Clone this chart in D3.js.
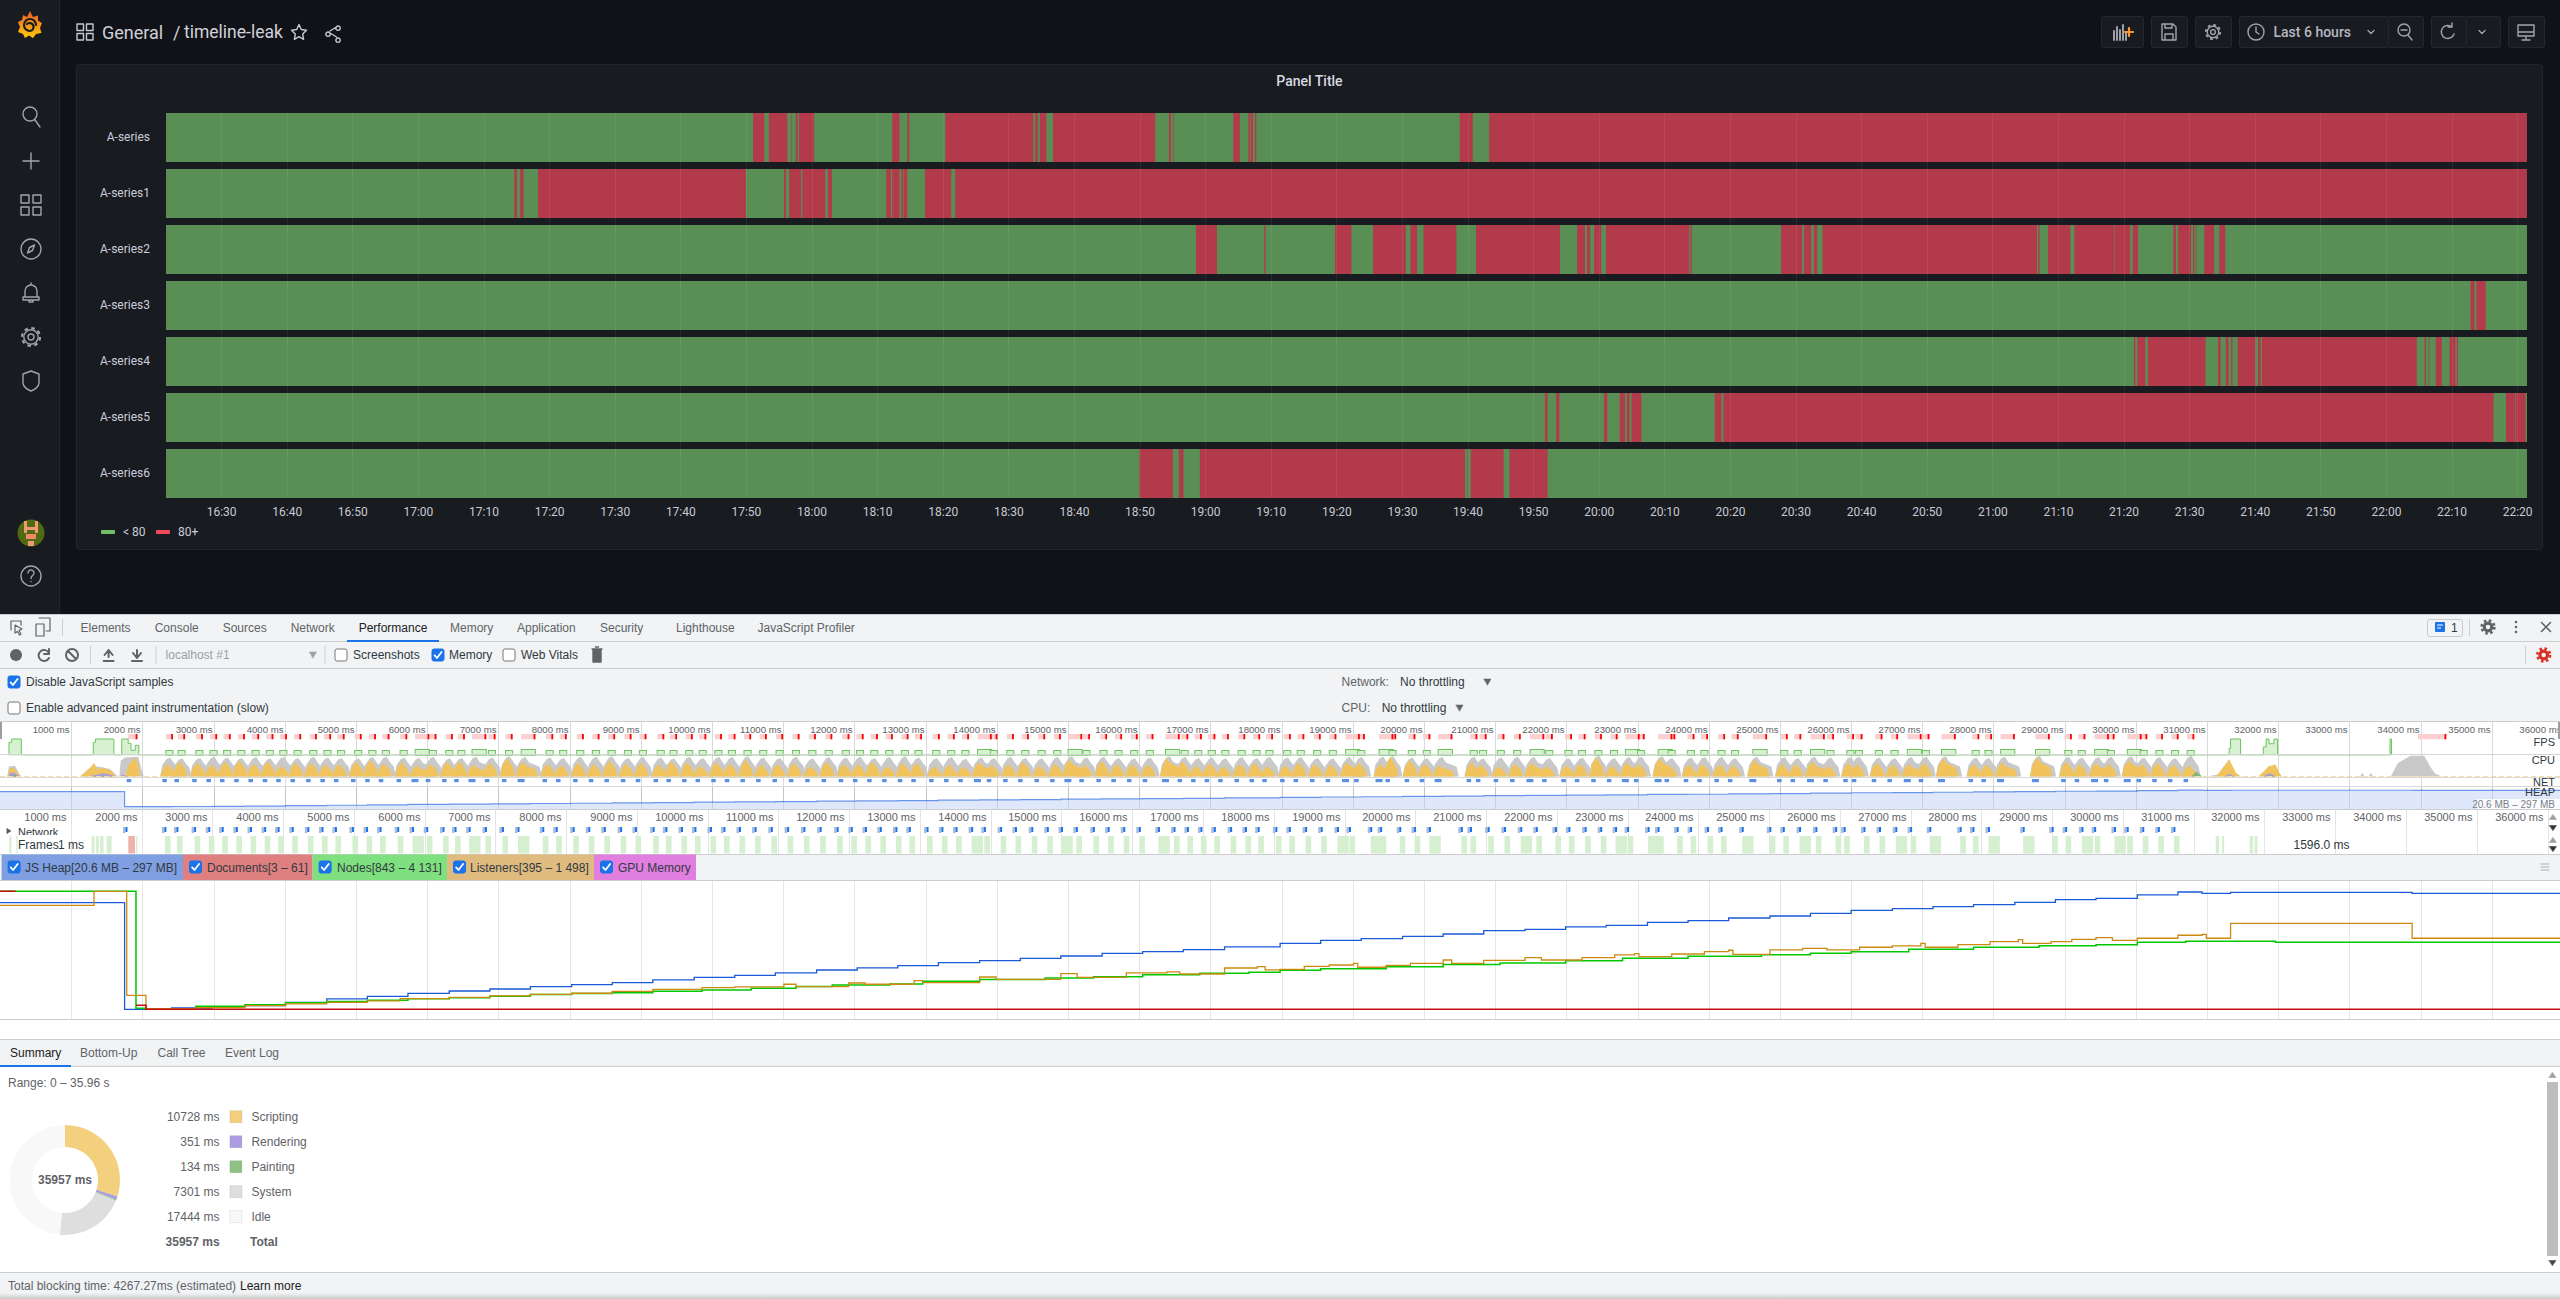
<!DOCTYPE html>
<html><head><meta charset="utf-8">
<script src="https://cdn.jsdelivr.net/npm/d3@7"></script>
<style>html,body{margin:0;padding:0;background:#111217;overflow:hidden}svg{display:block}</style>
</head><body><svg id="c" width="2560" height="1299" viewBox="0 0 2560 1299"></svg>
<script>
// ---------- State timeline (times are minutes after 16:00) ----------
const seriesNames=["A-series","A-series1","A-series2","A-series3","A-series4","A-series5","A-series6"];
const timeDomain=[21.6,381.5];
const tickLabels=["16:30","16:40","16:50","17:00","17:10","17:20","17:30","17:40","17:50","18:00","18:10","18:20","18:30","18:40","18:50","19:00","19:10","19:20","19:30","19:40","19:50","20:00","20:10","20:20","20:30","20:40","20:50","21:00","21:10","21:20","21:30","21:40","21:50","22:00","22:10","22:20"];
const redASeries=[[111.1,112.8],[113.5,116.3],[116.9,117.0],[117.6,117.9],[118.1,120.4],[132.3,133.4],[134.6,134.9],[140.4,153.8],[154.1,154.5],[154.8,155.8],[156.8,172.4],[174.5,174.8],[175.1,175.2],[184.3,185.3],[186.6,186.9],[187.0,187.3],[187.6,187.8],[218.8,220.8],[223.3,381.5]];
const redASeries1=[[74.7,75.1],[75.6,76.1],[78.3,110.0],[115.8,116.1],[116.6,118.4],[118.6,122.1],[122.5,123.1],[131.4,132.1],[132.3,133.4],[133.7,134.0],[134.1,134.6],[137.3,141.3],[141.9,381.5]];
const redASeries2=[[178.6,181.8],[189.0,189.2],[199.8,202.3],[205.6,210.6],[211.3,212.3],[213.3,218.3],[221.3,234.1],[236.7,237.9],[238.2,238.7],[239.3,240.4],[241.1,253.8],[254.0,254.2],[267.8,271.0],[271.3,272.4],[272.8,273.3],[274.1,306.8],[307.0,307.2],[308.5,311.9],[312.5,318.6],[318.7,321.0],[321.4,322.2],[327.6,328.0],[328.3,330.3],[330.6,330.8],[331.0,331.1],[332.3,333.8],[334.6,335.5]];
const redASeries3=[[372.9,373.5],[373.8,375.2]];
const redASeries4=[[321.6,321.8],[322.1,323.3],[323.7,332.5],[334.4,334.8],[335.6,336.0],[336.4,336.6],[337.4,340.1],[340.5,340.9],[341.1,364.7],[365.9,366.1],[366.5,366.6],[367.6,368.5],[369.7,370.6],[370.8,371.0]];
const redASeries5=[[231.8,232.2],[233.5,234.0],[240.8,241.3],[243.2,244.0],[244.3,244.7],[245.0,246.5],[257.7,258.7],[259.0,376.4],[378.3,379.7],[379.8,381.3]];
const redASeries6=[[170.0,175.1],[176.0,176.7],[179.2,219.6],[220.0,220.1],[220.5,225.5],[226.4,232.2]];
const redBySeries=[redASeries,redASeries1,redASeries2,redASeries3,redASeries4,redASeries5,redASeries6];
const legendLabels=["< 80","80+"];

// ---------- Performance overview (times in seconds) ----------
const rangeMs=[0,35957];
const secondTicks=[1000,2000,3000,4000,5000,6000,7000,8000,9000,10000,11000,12000,13000,14000,15000,16000,17000,18000,19000,20000,21000,22000,23000,24000,25000,26000,27000,28000,29000,30000,31000,32000,33000,34000,35000,36000];
const frameStarts=[2.33,2.50,2.75,2.95,3.14,3.34,3.54,3.74,3.93,4.13,
4.35,4.55,4.74,4.98,5.18,5.37,5.62,5.83,6.03,6.26,
6.43,6.63,6.86,7.10,7.32,7.67,7.86,8.10,8.32,8.54,
8.77,8.98,9.23,9.41,9.63,9.82,10.04,10.23,10.45,10.67,
10.90,11.13,11.36,11.59,11.83,12.03,12.23,12.44,12.66,12.85,
13.10,13.31,13.51,13.73,13.91,14.14,14.35,14.58,14.80,15.00,
15.21,15.45,15.66,15.88,16.10,16.37,16.59,16.78,16.97,17.16,
17.39,17.60,17.78,18.03,18.22,18.45,18.67,18.90,19.07,19.37,
19.51,19.78,19.99,20.20,20.65,20.78,21.03,21.26,21.49,21.71,
21.98,22.17,22.40,22.62,22.83,23.00,23.29,23.43,23.70,23.89,
24.13,24.32,24.62,25.01,25.20,25.43,25.66,25.94,26.06,26.34,
26.56,26.79,27.00,27.27,27.70,27.88,28.10,28.59,29.00,29.19,
29.42,29.60,29.88,30.06,30.28,30.50,30.72];
const longFrames=[5.83,6.63,7.32,13.73,15.00,16.37,18.90,19.37,20.20,21.49,22.83,23.29,24.62,25.43,26.79,27.27,28.10,28.59,29.42,29.88];
const cpuScript=[.62,.72,.68,.58,.72,.78,.62,.74,.52,.68,
.66,.58,.6,.72,.8,.64,.7,.55,.62,.72,
.74,.58,.66,.9,.72,.62,.55,.68,.6,.78,
.62,.66,.58,.74,.7,.52,.7,.62,.82,.58,
.6,.66,.5,.72,.62,.6,.72,.5,.66,.66,
.5,.58,.48,.7,.56,.6,.72,.52,.62,.82,
.58,.76,.62,.6,.58,.9,.72,.52,.64,.48,
.62,.66,.5,.55,.68,.62,.58,.7,.66,.6,
.95,.8,.62,.56,.7,.58,.5,.62,.68,.5,
.55,.62,.95,.52,.68,.6,.9,.5,.58,.6,
.58,.55,.82,.62,.6,.72,.52,.68,.6,.66,
.58,.62,.66,.9,.62,.58,.7,.95,.72,.6,
.66,.62,.8,.6,.68,.58,.55];
const cpuSystem=[.92,.88,.9,.96,.92,.9,.94,.88,.96,.9,
.95,.92,.9,.88,.94,.96,.92,.9,.95,.88,
.9,.96,.92,.98,.94,.92,.9,.95,.96,.98,
.9,.94,.92,.88,.96,.9,.95,.94,.98,.92,
.9,.96,.88,.94,.92,.96,.9,.94,.98,.92,
.9,.94,.86,.92,.9,.95,.9,.88,.94,.98,
.92,.96,.9,.88,.92,.98,.95,.9,.92,.88,
.94,.9,.96,.92,.94,.9,.88,.95,.94,.96,
.98,.92,.9,.94,.96,.88,.92,.96,.94,.9,
.88,.92,1,.9,.94,.96,.98,.9,.92,.94,
.95,.9,.96,.94,.9,.96,.92,.94,.96,.92,
.9,.94,.96,.98,.92,.9,.96,1,.96,.92,
.94,.96,.98,.92,.94,.9,1];
const fpsStepT=[.126,.164,.29,.30,1.31,1.34,1.59,1.60,1.71,1.80,1.84,1.90,1.94,1.95,31.31,31.33,31.46,31.47,31.79,31.83,31.87,31.94,31.98,31.99,33.57,33.59];
const fpsStepV=[.78,1,1,0,.78,1,1,0,1,.72,.28,.6,.6,0,.4,1,1,0,.5,1,.7,1,1,0,1,0];
const grayT=[.103,.126,.21,.28,.304,1.124,1.264,1.381,1.545,1.639,1.676,1.695,1.756,1.943,1.99,2.022,2.2,31.0,31.15,31.31,31.4,31.47,31.65,31.76,31.86,32.0,32.05,33.15,33.18,33.21,33.27,33.3,33.33,33.58,33.68,33.86,34.05,34.13,34.2,34.3];
const grayV=[0,.49,.52,.08,0,0,.44,.49,.37,.05,0,.76,.92,.95,.29,0,0,0,.1,.82,.2,.02,0,0,.5,.25,0,0,.2,0,0,.17,0,0,.65,1,1,.5,.15,0];
const scriptT=[.103,.14,.21,.27,.29,1.124,1.264,1.32,1.381,1.451,1.568,1.639,1.756,1.802,1.896,1.943,1.966,31.13,31.31,31.41,31.47,31.72,31.87,31.96,32.04];
const scriptV=[0,.44,.37,.08,0,0,.41,.65,.33,.44,.24,0,0,.52,.92,.6,0,0,.82,.15,0,0,.5,.58,0];
const renderT=[.117,.15,.21,.257,.28,1.217,1.334,1.451,1.568,1.639,1.68,1.72,1.8,31.24,31.31,31.39,31.77,31.88,31.98];
const renderV=[0,.21,.17,.05,0,0,.08,.16,.08,0,0,.1,0,0,.13,0,0,.16,0];
const paintT=[.117,.164,.21,.257,1.264,1.451,1.592,30.78,30.85,30.93,31.82,31.88,31.96];
const paintV=[0,.08,.08,0,0,.05,0,0,.25,0,0,.08,0];
const preFrameT=[.13,.23,1.295,1.356,1.413,1.507,1.813,1.92,31.31,31.40,31.79,31.86];
const preFrameW=[.03,.02,.04,.04,.05,.07,.094,.02,.05,.03,.05,.04];
// ---------- Counters: time (s) and value ----------
const heapT=[0,1.75,2.41,2.98,3.44,4.01,4.59,5.16,5.73,6.31,6.88,7.45,8.03,8.60,9.17,9.75,10.32,10.89,11.47,12.04,12.61,13.18,13.76,14.33,14.90,15.48,16.05,16.62,17.20,17.98,18.55,19.12,19.70,20.27,20.84,21.42,21.99,22.56,23.14,23.71,24.28,24.86,25.43,26.00,26.58,27.15,27.72,28.30,28.87,29.44,30.02,30.59,30.93,31.33,33.88,35.96];
const heapMB=[270.4,20.6,23.7,26.1,29.2,37,44.8,51,58,63.5,68.2,73.7,78.4,83,89.3,95.6,100.2,105.7,112.7,117.4,122.9,129.9,134.6,140,145.5,151.8,155.7,160.4,166.6,175.2,182.2,186.1,191.6,197,204.9,208,213.5,217.4,224.4,228.3,234.5,239.2,245.5,252.5,256.4,261.1,265.8,271.2,277.5,280.6,288.4,295.4,292.3,294.7,292.3,292.3];
const docsT=[0,.22,.23,1.91,2.05,35.96];
const docsN=[61,61,null,5,3,3];
const nodesT=[0,1.91,2.04,2.75,3.44,4.01,4.59,5.16,5.73,6.31,6.88,7.45,8.03,8.60,9.17,9.86,10.55,11.18,11.69,12.50,12.96,13.76,14.68,15.36,16.05,16.85,17.54,17.98,18.55,19.47,20.27,21.07,21.99,22.79,23.71,24.74,25.43,26.00,26.81,27.72,28.64,29.44,30.02,30.70,31.96,33.88,35.96];
const nodesN=[4131,871,852,927,973,1029,1057,1094,1140,1168,1205,1252,1280,1307,1345,1382,1428,1475,1521,1549,1623,1670,1716,1753,1809,1846,1874,1930,1976,2032,2088,2134,2199,2264,2320,2366,2403,2450,2515,2571,2617,2645,2710,2738,2710,2710,2710];
const listenT=[0,1.32,1.78,2.05,2.75,3.44,4.01,4.59,5.16,5.62,6.31,6.88,7.45,8.03,8.60,9.17,9.86,10.32,11.01,11.18,11.92,12.15,12.84,12.96,13.76,13.99,14.90,15.13,15.82,16.39,16.57,17.20,17.66,17.77,17.98,18.32,18.67,19.01,19.07,19.47,19.81,20.27,20.39,20.84,21.42,21.65,22.22,22.68,22.96,23.02,23.48,23.94,24.28,24.34,24.86,25.32,25.66,26.12,26.58,26.98,27.04,27.50,27.95,28.35,28.41,28.81,29.10,29.44,29.67,30.02,30.59,30.93,30.99,31.33,33.88,35.96];
const listenN=[1367,1498,526,401,411,429,445,460,473,495,507,520,535,545,563,582,598,604,629,607,641,629,663,644,697,675,728,694,735,744,725,781,794,763,769,797,809,825,788,806,825,856,825,853,878,856,878,903,915,887,912,934,947,909,950,965,950,975,987,1012,975,1000,1028,1046,1012,1028,1049,1065,1040,1059,1087,1096,1059,1199,1059,1059];
// ---------- Summary ----------
const summaryLabels=["Scripting","Rendering","Painting","System","Idle"];
const summaryValues=[10728,351,134,7301,17444];
const summaryTotal=35957;
const summaryColors=["#f3d07e","#ae9ce3","#8fc184","#dedede","#f8f8f8"];
const counterLabels=["JS Heap[20.6 MB – 297 MB]","Documents[3 – 61]","Nodes[843 – 4 131]","Listeners[395 – 1 498]","GPU Memory"];
const counterColors=["#7f9fe2","#e07f7f","#7fe07f","#e0bb7f","#e07fe0"];
const tabs=["Elements","Console","Sources","Network","Performance","Memory","Application","Security","Lighthouse","JavaScript Profiler"];

// ---------- helpers ----------
const svg=d3.select("#c");
const GF="Roboto, sans-serif", DF="'Liberation Sans', Arial, sans-serif";
function R(x,y,w,h,fill,o={},p=svg){const r=p.append("rect").attr("x",x).attr("y",y).attr("width",w).attr("height",h).attr("fill",fill);for(const k in o)r.attr(k,o[k]);return r;}
function T(x,y,s,o={},p=svg){const t=p.append("text").attr("x",x).attr("y",y).attr("dominant-baseline","central").attr("font-family",o.ff||DF).attr("font-size",o.fs||12).attr("fill",o.c||"#5f6368").attr("text-anchor",o.a||"start").text(s);if(o.w)t.attr("font-weight",o.w);if(o.deco)t.attr("text-decoration",o.deco);return t;}
function L(x1,y1,x2,y2,c,w=1,p=svg){return p.append("line").attr("x1",x1).attr("y1",y1).attr("x2",x2).attr("y2",y2).attr("stroke",c).attr("stroke-width",w);}
function P(x,y,d,o={},p=svg){return p.append("path").attr("transform",`translate(${x},${y})`).attr("d",d).attr("fill",o.f||"none").attr("stroke",o.s===undefined?"#a2a4ad":o.s).attr("stroke-width",o.w||1.4).attr("stroke-linecap","round").attr("stroke-linejoin","round");}
function Cb(x,y,checked){const g=svg.append("g");R(x,y,12,12,checked?"#1a73e8":"#fff",{rx:2,stroke:checked?"#1a73e8":"#767676"},g);if(checked)P(x,y,"M2.6 6.4L5 9L9.6 3",{s:"#fff",w:1.8},g);}
function Gear(x,y,r,c){const g=svg.append("g");
  g.append("circle").attr("cx",x).attr("cy",y).attr("r",r*.72).attr("fill","none").attr("stroke",c).attr("stroke-width",1.4);
  g.append("circle").attr("cx",x).attr("cy",y).attr("r",r*.3).attr("fill","none").attr("stroke",c).attr("stroke-width",1.4);
  const dash=2*Math.PI*r*.9/16;
  g.append("circle").attr("cx",x).attr("cy",y).attr("r",r*.9).attr("fill","none").attr("stroke",c).attr("stroke-width",r*.22).attr("stroke-dasharray",`${dash} ${dash}`);}
function SolidGear(x,y,r,c,bg){const g=svg.append("g");
  const dash=2*Math.PI*r*.85/16;
  g.append("circle").attr("cx",x).attr("cy",y).attr("r",r*.85).attr("fill","none").attr("stroke",c).attr("stroke-width",r*.35).attr("stroke-dasharray",`${dash} ${dash}`);
  g.append("circle").attr("cx",x).attr("cy",y).attr("r",r*.72).attr("fill",c);
  g.append("circle").attr("cx",x).attr("cy",y).attr("r",r*.3).attr("fill",bg);}

// ---------- dark area ----------
R(0,0,2560,614,"#111217");
R(0,0,59.5,614,"#181b1f");L(59.5,0,59.5,614,"#22252b");
// logo
const defs=svg.append("defs");
const lg=defs.append("linearGradient").attr("id","lg").attr("x1",0).attr("y1",1).attr("x2",0).attr("y2",0);
lg.append("stop").attr("offset",0).attr("stop-color","#fbca0a");lg.append("stop").attr("offset",1).attr("stop-color","#f05a28");
svg.append("path").attr("transform","translate(30,25)").attr("fill","url(#lg)")
 .attr("d","M0 -14L3 -8L8 -9.5L8 -4.5L12 -2L10 3L11.5 8L6 9L3 13L-1 10.5L-5 13L-7 9L-12 7L-10 2L-12 -3L-8 -5L-7 -10L-3 -8Z");
P(30,25,"M6 0A6 6 0 1 0 0 6A4 4 0 1 0 -3 -1",{s:"#181b1f",w:2.2});
// side icons
const cx=31;
P(cx,117,"M-8 -3a7 7 0 1 0 14 0a7 7 0 1 0 -14 0M4 3L9 10");
P(cx,161,"M0 -8V8M-8 0H8");
P(cx,205,"M-10 -10h8v8h-8zM2 -10h8v8h-8zM-10 2h8v8h-8zM2 2h8v8h-8z");
P(cx,249,"M-10 0a10 10 0 1 0 20 0a10 10 0 1 0 -20 0M3.5 -4L1.5 1.5L-3.5 4L-1.5 -1.5Z");
P(cx,293,"M0 -10V-8M-6 4V-2a6 6 0 0 1 12 0V4M-8 4H8V7H-8ZM-2 7V9H2V7");
Gear(cx,337,10,"#a2a4ad");
P(cx,381,"M-8 -7L0 -10L8 -7V2C8 6 3 9 0 10C-3 9 -8 6 -8 2Z");
svg.append("circle").attr("cx",cx).attr("cy",533).attr("r",13.5).attr("fill","#4f6a10");
R(cx-7,521,3,12,"#f09a73");R(cx+4,521,3,12,"#f09a73");R(cx-4,527,8,3,"#f09a73");R(cx-5,534,10,5,"#ee8a66");R(cx-3,541,6,5,"#f09a73");
P(cx,576,"M-10 0a10 10 0 1 0 20 0a10 10 0 1 0 -20 0M-3 -3a3 3 0 1 1 4.5 2.6C.5 .2 0 1 0 2.5M0 5.5v.1");
// title bar
P(85,32,"M-8 -8h6.5v6.5h-6.5zM1.5 -8h6.5v6.5h-6.5zM-8 1.5h6.5v6.5h-6.5zM1.5 1.5h6.5v6.5h-6.5z",{s:"#c7c8d1"});
T(102,32,"General",{ff:GF,fs:18,c:"#d0d1da"});
T(173,32,"/",{ff:GF,fs:18,c:"#d0d1da"});
T(184,32,"timeline-leak",{ff:GF,fs:17.5,c:"#d0d1da"});
P(299,32,"M0 -7.5L2.3 -2.5L7.5 -1.8L3.7 1.9L4.6 7.3L0 4.7L-4.6 7.3L-3.7 1.9L-7.5 -1.8L-2.3 -2.5Z",{s:"#c7c8d1"});
P(333,32,"M-5 0a2.2 2.2 0 1 0 .1 0M5 -6a2.2 2.2 0 1 0 .1 0M5 6a2.2 2.2 0 1 0 .1 0M-3 -1L3.5 -5M-3 1L3.5 5",{s:"#c7c8d1"});
// toolbar
const btnX=[2101,2151,2195,2239,2388,2431,2466,2508],btnW=[42,36,36,149,35,35,34,36];
btnX.forEach((x,i)=>R(x+.5,16.5,btnW[i],31,"#181b1f",{rx:2,stroke:"#24272d"}));
P(2122,32,"M-8 8V-1M-5 8V-5M-2 8V-2M1 8V-7M4 8V1",{s:"#9ea0a9",w:2});
P(2129,32,"M-4 0H4M0 -4V4",{s:"#ff9830",w:2.2});
P(2169,32,"M-7 -8H4L7 -5V8H-7ZM-4 -8V-4H3V-8M-4 8V2H4V8");
Gear(2213,32,8,"#a2a4ad");
P(2256,32,"M-8 0a8 8 0 1 0 16 0a8 8 0 1 0 -16 0M0 -5V0L3 2");
T(2273.5,32,"Last 6 hours",{ff:GF,fs:14,c:"#b6b7c2",w:500});
P(2371,32,"M-3 -1.5L0 1.5L3 -1.5");
P(2405,32,"M-7 -2a6 6 0 1 0 12 0a6 6 0 1 0 -12 0M3 3L7 8M-4 -2H2");
P(2448,32,"M6 2A6.5 6.5 0 1 1 4 -5M4 -9V-5H0");
P(2482,32,"M-3 -1.5L0 1.5L3 -1.5");
P(2526,32,"M-8 -7H8V4H-8ZM-4 8H4M0 4V8M-8 0H8");
// panel
R(76.5,64.5,2466,485,"#181b1f",{rx:3,stroke:"#22252a"});
T(1309.5,81,"Panel Title",{ff:GF,fs:14,c:"#d8d9e2",a:"middle",w:500});

// state timeline
const parseTick=s=>{const [h,m]=s.split(":").map(Number);return (h-16)*60+m;};
const xT=d3.scaleLinear().domain(timeDomain).range([166,2527]);
const rows=svg.append("g");
const stepH=49;
seriesNames.forEach((n,i)=>{
  const y=113+i*56;
  rows.append("rect").attr("x",xT(timeDomain[0])).attr("y",y).attr("width",xT(timeDomain[1])-xT(timeDomain[0])).attr("height",stepH).attr("fill","#598e54");
  rows.selectAll(null).data(redBySeries[i]).join("rect").attr("x",d=>xT(d[0])).attr("width",d=>xT(d[1])-xT(d[0])).attr("y",y).attr("height",stepH).attr("fill","#b23a4b");
  T(150,y+23.8,n,{ff:GF,fs:12,c:"#ccccdc",a:"end"});
});
const axG=svg.append("g").attr("transform","translate(0,498)").call(d3.axisBottom(xT).tickValues(tickLabels.map(parseTick)).tickSize(0).tickPadding(0).tickFormat((d,i)=>tickLabels[i]));
axG.select(".domain").remove();
axG.selectAll("text").attr("font-family",GF).attr("font-size",12).attr("fill","#c8c9d3").attr("y",13.5).attr("dy",0).attr("dominant-baseline","central");
tickLabels.map(parseTick).forEach(m=>L(Math.round(xT(m))+.5,113,Math.round(xT(m))+.5,498,"rgba(255,255,255,0.07)"));
// legend
R(101,530,14,4,"#73bf69",{rx:1});T(123,532,legendLabels[0],{ff:GF,fs:12,c:"#ccccdc"});
R(156,530,14,4,"#f2495c",{rx:1});T(178,532,legendLabels[1],{ff:GF,fs:12,c:"#ccccdc"});

// ---------- DevTools ----------
R(0,614,2560,685,"#f1f3f4");
L(0,614.5,2560,614.5,"#ccd0d6");
L(0,641.5,2560,641.5,"#cbcdd1");L(0,668.5,2560,668.5,"#cbcdd1");L(0,721.5,2560,721.5,"#cbcdd1");
const tabX=[80.6,154.7,222.7,290.7,358.7,450,517,600,676,757.5];
tabs.forEach((t,i)=>T(tabX[i],627.7,t,{c:t==="Performance"?"#202124":"#5f6368"}));
R(347,640,92,2,"#1a73e8");
P(16,627,"M-5 3V-6H5V-2M-1 -2L6 2L3 3.5L5 7L3.5 8L1.5 4.5L-1 6Z",{s:"#5f6368",w:1.2});
P(43,627,"M-4 -9H7V4H3M-7 -3H1V9H-7Z",{s:"#5f6368",w:1.2});
L(62.5,619,62.5,636,"#ccd0d6");
// second toolbar
svg.append("circle").attr("cx",16).attr("cy",655).attr("r",6).attr("fill","#5f6368");
P(44,655,"M5 -2A5.5 5.5 0 1 0 5 3M5 -6V-1H0",{s:"#5f6368",w:2});
P(72,655,"M-6 0a6 6 0 1 0 12 0a6 6 0 1 0 -12 0M-4 -4L4 4",{s:"#5f6368",w:2});
L(90.5,646,90.5,664,"#ccd0d6");
P(108.6,654,"M-4 1L0 -4L4 1M0 -4V3M-5 7H5",{s:"#5f6368",w:2});
P(137,654,"M-4 -1L0 4L4 -1M0 4V-4M-5 7H5",{s:"#5f6368",w:2});
L(156,646,156,664,"#ccd0d6");
T(165.6,655,"localhost #1",{c:"#9aa0a6"});
P(313,655,"M-3.5 -3H3.5L0 3Z",{f:"#9aa0a6",s:"#9aa0a6",w:.5});
L(325,646,325,664,"#ccd0d6");
Cb(335,649,false);T(353,655,"Screenshots",{c:"#303942"});
Cb(432,649,true);T(449,655,"Memory",{c:"#303942"});
Cb(503,649,false);T(521,655,"Web Vitals",{c:"#303942"});
P(597,655,"M-4 -5H4V7H-4ZM-5 -6H5M-1.5 -8H1.5",{f:"#5f6368",s:"#5f6368",w:1.4});
// badge & right icons
R(2427.5,619.5,35,17,"#f1f3f4",{rx:2,stroke:"#c6c9cd"});
R(2435,622,10,10,"#1a73e8",{rx:1});L(2437,625,2443,625,"#fff");L(2437,628,2441,628,"#fff");
T(2451,628,"1",{c:"#303942"});
L(2469.5,619,2469.5,636,"#ccd0d6");
SolidGear(2488,627,7.5,"#5f6368","#f1f3f4");
[-5,0,5].forEach(d=>svg.append("circle").attr("cx",2516).attr("cy",627+d).attr("r",1.3).attr("fill","#5f6368"));
P(2546,627,"M-4.5 -4.5L4.5 4.5M4.5 -4.5L-4.5 4.5",{s:"#5f6368",w:1.6});
L(2525.5,646,2525.5,664,"#ccd0d6");
SolidGear(2543.7,655,7.5,"#d93025","#f1f3f4");
// third toolbar
Cb(8,676,true);T(26,682,"Disable JavaScript samples",{c:"#303942"});
Cb(8,702,false);T(26,708,"Enable advanced paint instrumentation (slow)",{c:"#303942"});
T(1341.6,682,"Network:",{c:"#5f6368"});T(1400,682,"No throttling",{c:"#303942"});
P(1487.5,682,"M-3.5 -3H3.5L0 3Z",{f:"#5f6368",s:"#5f6368",w:.5});
T(1341.6,708,"CPU:",{c:"#5f6368"});T(1381.7,708,"No throttling",{c:"#303942"});
P(1459.6,708,"M-3.5 -3H3.5L0 3Z",{f:"#5f6368",s:"#5f6368",w:.5});

// ---------- Overview ----------
R(0,722,2560,132,"#fff");
const xO=d3.scaleLinear().domain([0,35957]).range([0,2560]);
const ts=t=>xO(t*1000);
const longSet=new Set(longFrames);
const fw=s=>longSet.has(s)?0.2:0.1;
const ov=svg.append("g");
secondTicks.forEach(v=>{const x=Math.round(xO(v))+.5;L(x,722,x,809.5,"#dadada",1,ov);T(x-2,729,`${v} ms`,{fs:9.6,c:"#5f6368",a:"end"},ov);});
// FPS
ov.selectAll(null).data(frameStarts).join("rect").attr("x",d=>ts(d)).attr("width",d=>ts(fw(d)))
 .attr("y",d=>longSet.has(d)?749.5:750.5).attr("height",d=>longSet.has(d)?5.5:4.5).attr("fill","#d7f1d1").attr("stroke","#6cc460").attr("stroke-width",1);
// pink/red
ov.selectAll(null).data(frameStarts).join("rect").attr("x",d=>ts(d)).attr("width",d=>ts(fw(d))).attr("y",734).attr("height",5.3).attr("fill","#fcd0d0");
ov.selectAll(null).data(frameStarts).join("rect").attr("x",d=>ts(d+fw(d))-1.8).attr("width",1.8).attr("y",734).attr("height",5.3).attr("fill","#f00");
R(ts(1.8),734,ts(.13),5.3,"#fcd0d0",{},ov);R(ts(1.93)-1.8,734,1.8,5.3,"#f00",{},ov);
R(ts(33.96),734,ts(.4),5.3,"#fcd0d0",{},ov);R(ts(34.36)-1.8,734,1.8,5.3,"#f00",{},ov);
const yFps=d3.scaleLinear().domain([0,1]).range([754.7,739]);
const zip=(a,b)=>a.map((t,i)=>[t,b[i]]);
ov.append("path").attr("d",d3.area().x(d=>ts(d[0])).y0(754.7).y1(d=>yFps(d[1])).curve(d3.curveStepAfter)(zip(fpsStepT,fpsStepV))).attr("fill","#d7f1d1").attr("stroke","#6cc460");
L(0,754.5,2560,754.5,"#d4d4d4",1,ov);
// CPU
const yCpu=d3.scaleLinear().domain([0,1]).range([776.6,755.8]);
const aCpu=d3.area().x(d=>ts(d[0])).y0(776.6).y1(d=>yCpu(d[1]));
const grayHump=(s,g,w)=>[[s-.08,0],[s-.05,.6*g],[s+.01,.92*g],[s+.06,g],[s+.11,.72*g],[s+w+.06,.5*g],[s+w+.09,0]];
const scriptHump=(s,o,w)=>[[s-.08,0],[s-.04,.6*o],[s+.02,o],[s+.06,.75*o],[s+w+.01,.45*o],[s+w+.03,0]];
ov.append("g").selectAll("path").data(frameStarts).join("path").attr("d",(s,i)=>aCpu(grayHump(s,cpuSystem[i],fw(s)))).attr("fill","#c9c9c9");
ov.append("g").selectAll("path").data(frameStarts).join("path").attr("d",(s,i)=>aCpu(scriptHump(s,cpuScript[i],fw(s)))).attr("fill","#f0c35c");
[[grayT,grayV,"#c9c9c9"],[scriptT,scriptV,"#f0c35c"],[renderT,renderV,"#ae9ce3"],[paintT,paintV,"#7fb779"]].forEach(([a,b,c])=>{
  ov.append("path").attr("d",aCpu(zip(a,b))).attr("fill",c);
});
L(0,776.5,170,776.5,"#f3dfa9",1,ov).attr("stroke-dasharray","5 3");
L(2195,776.5,2560,776.5,"#f3dfa9",1,ov).attr("stroke-dasharray","5 3");
L(0,777.5,2560,777.5,"#d8d8d8",1,ov);
// NET
ov.selectAll(null).data(frameStarts).join("rect").attr("x",d=>ts(d-.05)).attr("width",d=>longSet.has(d)?7:4.5).attr("y",779).attr("height",3.2).attr("fill","#5b8fe0");
R(ts(1.78),779,4.5,3.2,"#5b8fe0",{},ov);
L(0,786.5,2560,786.5,"#d8d8d8",1,ov);
// HEAP overview
const heapPts=zip(heapT,heapMB);
const yH=d3.scaleLinear().domain([20.6,297]).range([806.7,790.1]);
ov.append("path").attr("d",d3.area().x(d=>ts(d[0])).y0(809).y1(d=>yH(d[1])).curve(d3.curveStepAfter)(heapPts)).attr("fill","#dfe7fb");
ov.append("path").attr("d",d3.line().x(d=>ts(d[0])).y(d=>yH(d[1])).curve(d3.curveStepAfter)(heapPts)).attr("fill","none").attr("stroke","#6a96ea").attr("stroke-width",1.2);
secondTicks.forEach(v=>{const x=Math.round(xO(v))+.5;L(x,787,x,809.5,"rgba(0,0,0,.1)",1,ov);});
L(0,809.5,2560,809.5,"#cbcdd1",1,ov);
[["FPS",742],["CPU",760],["NET",782],["HEAP",792]].forEach(([s,y])=>T(2555,y,s,{fs:11,c:"#303942",a:"end"},ov));
R(2477,799,83,10,"rgba(255,255,255,.85)",{},ov);
T(2555,804,"20.6 MB – 297 MB",{fs:10,c:"#7b7f85",a:"end"},ov);
R(0,722,2,17,"#9e9e9e",{},ov);R(2558,722,2,17,"#9e9e9e",{},ov);

// ---------- Main timeline ----------
const xM=d3.scaleLinear().domain([0,35957]).range([0,2544.5]);
const mt=svg.append("g");
R(0,810,2546,44,"#fff",{},mt);
secondTicks.forEach(v=>{const x=Math.round(xM(v))+.5;L(x,810,x,854,"#e4e4e4",1,mt);T(x-5,817,`${v} ms`,{fs:11,c:"#5f6368",a:"end"},mt);});
mt.selectAll(null).data(frameStarts).join("rect").attr("x",d=>xM(d*1000)).attr("width",d=>xM(fw(d)*800)).attr("y",836).attr("height",17.5).attr("fill","#d6efd0");
mt.selectAll(null).data(preFrameT).join("rect").attr("x",d=>xM(d*1000)).attr("width",(d,i)=>xM(preFrameW[i]*1000)).attr("y",836).attr("height",17.5).attr("fill",d=>d===1.813?"#efb2aa":"#d6efd0");
mt.selectAll(null).data(frameStarts).join("rect").attr("x",d=>xM(d*1000)-3).attr("width",2.5).attr("y",827).attr("height",6).attr("fill","#a9bbd8");
mt.selectAll(null).data(frameStarts).join("rect").attr("x",d=>xM(d*1000)-.5).attr("width",2).attr("y",827).attr("height",5).attr("fill","#1a73e8");
R(xM(1780)-3,827,2.5,6,"#a9bbd8",{},mt);R(xM(1780)-.5,827,2,5,"#1a73e8",{},mt);
const cl=defs.append("clipPath").attr("id","cn");cl.append("rect").attr("x",0).attr("y",825).attr("width",70).attr("height",10);
const netLabel=mt.append("g").attr("clip-path","url(#cn)");
P(9,831,"M-2 -2.5L2 0L-2 2.5Z",{f:"#555",s:"#555",w:.5},netLabel);
T(18,831.5,"Network",{fs:11,c:"#303942"},netLabel);
T(18,845,"Frames",{fs:12,c:"#303942"},mt);
T(58,845,"1 ms",{fs:12,c:"#303942"},mt);
T(2293.5,845,"1596.0 ms",{fs:12,c:"#303942"},mt);
[[817,"#9e9e9e",1],[828,"#333",-1],[840,"#9e9e9e",1],[849,"#333",-1]].forEach(([y,c,d])=>P(2553,y,d>0?"M-3.5 2.5H3.5L0 -2.5Z":"M-3.5 -2.5H3.5L0 2.5Z",{f:c,s:c,w:.5},mt));
L(0,854.5,2560,854.5,"#cbcdd1");

// counters legend
const counterX=[1.6,183,312.6,447,594,696];
const counterText=[25,207,337,470,618];
counterLabels.forEach((s,i)=>{
  R(counterX[i],854.5,counterX[i+1]-counterX[i],26,counterColors[i]);
  Cb(counterX[i]+6.5,861,true);
  T(counterText[i],868,s,{c:"#303942"});
});
P(2545,867,"M-4 -3H4M-4 0H4M-4 3H4",{s:"#b0b0b0",w:1});
L(0,880.5,2560,880.5,"#cbcdd1");

// memory chart
R(0,881,2560,138,"#fff");
secondTicks.forEach(v=>{const x=Math.round(xO(v))+.5;L(x,881,x,1019,"#e6e6e6");});
const yRange=[1009.3,891.3];
const yHeap=d3.scaleLinear().domain([20.6,297]).range(yRange);
const yDocs=d3.scaleLinear().domain([3,61]).range(yRange);
const yNodes=d3.scaleLinear().domain([843,4131]).range(yRange);
const yListen=d3.scaleLinear().domain([395,1498]).range(yRange);
const stepLine=(y)=>d3.line().defined(d=>d[1]!==null).x(d=>ts(d[0])).y(d=>y(d[1])).curve(d3.curveStepAfter);
const draw=(t,v,y,c,w)=>svg.append("path").attr("d",stepLine(y)(zip(t,v))).attr("fill","none").attr("stroke",c).attr("stroke-width",w);
draw(heapT,heapMB,yHeap,"#1a5ad6",1.3);
draw(nodesT,nodesN,yNodes,"#00c800",1.5);
draw(listenT,listenN,yListen,"#cc8a10",1.3);
draw(docsT,docsN,yDocs,"#c40f0f",1.6);
L(0,1019.5,2560,1019.5,"#cbcdd1");
R(0,1020,2560,19,"#fff");

// ---------- Summary ----------
L(0,1039.5,2560,1039.5,"#cbcdd1");
L(0,1066.5,2560,1066.5,"#cbcdd1");
T(10,1053,"Summary",{c:"#202124"});T(80,1053,"Bottom-Up");T(157.5,1053,"Call Tree");T(225,1053,"Event Log");
R(0,1065,71,2,"#1a73e8");
R(0,1067,2560,205,"#fff");
T(8,1083,"Range: 0 – 35.96 s",{c:"#5f6368"});
const pie=d3.pie().sort(null)(summaryValues);
const arc=d3.arc().innerRadius(33).outerRadius(55);
svg.append("g").attr("transform","translate(65,1180)").selectAll("path").data(pie).join("path").attr("d",arc).attr("fill",(d,i)=>summaryColors[i]);
T(65,1180,`${summaryTotal} ms`,{c:"#5f6368",a:"middle",w:700});
summaryLabels.forEach((s,i)=>{
  const y=1116.7+i*25;
  T(219.6,y,`${summaryValues[i]} ms`,{c:"#5f6368",a:"end"});
  R(229.9,y-6,12,12,summaryColors[i],{stroke:"rgba(0,0,0,.08)"});
  T(251.4,y,s,{c:"#5f6368"});
});
T(219.6,1241.7,`${summaryTotal} ms`,{c:"#5f6368",a:"end",w:700});
T(250,1241.7,"Total",{c:"#5f6368",w:700});
// scrollbar
R(2547,1082,11,174,"#bdbdbd");
P(2552.5,1075,"M-3.5 2.5H3.5L0 -2.5Z",{f:"#9e9e9e",s:"#9e9e9e",w:.5});
P(2552.5,1263,"M-3.5 -2.5H3.5L0 2.5Z",{f:"#444",s:"#444",w:.5});
// footer
L(0,1272.5,2560,1272.5,"#cbcdd1");
T(8,1286,"Total blocking time: 4267.27ms (estimated)",{c:"#5f6368"});
T(240,1286,"Learn more",{c:"#202124",deco:"underline"});
const fg=defs.append("linearGradient").attr("id","fg").attr("x1",0).attr("y1",0).attr("x2",0).attr("y2",1);
fg.append("stop").attr("offset",0).attr("stop-color","#f1f3f4");fg.append("stop").attr("offset",1).attr("stop-color","#c9cacb");
R(0,1293,2560,6,"url(#fg)");
</script></body></html>
